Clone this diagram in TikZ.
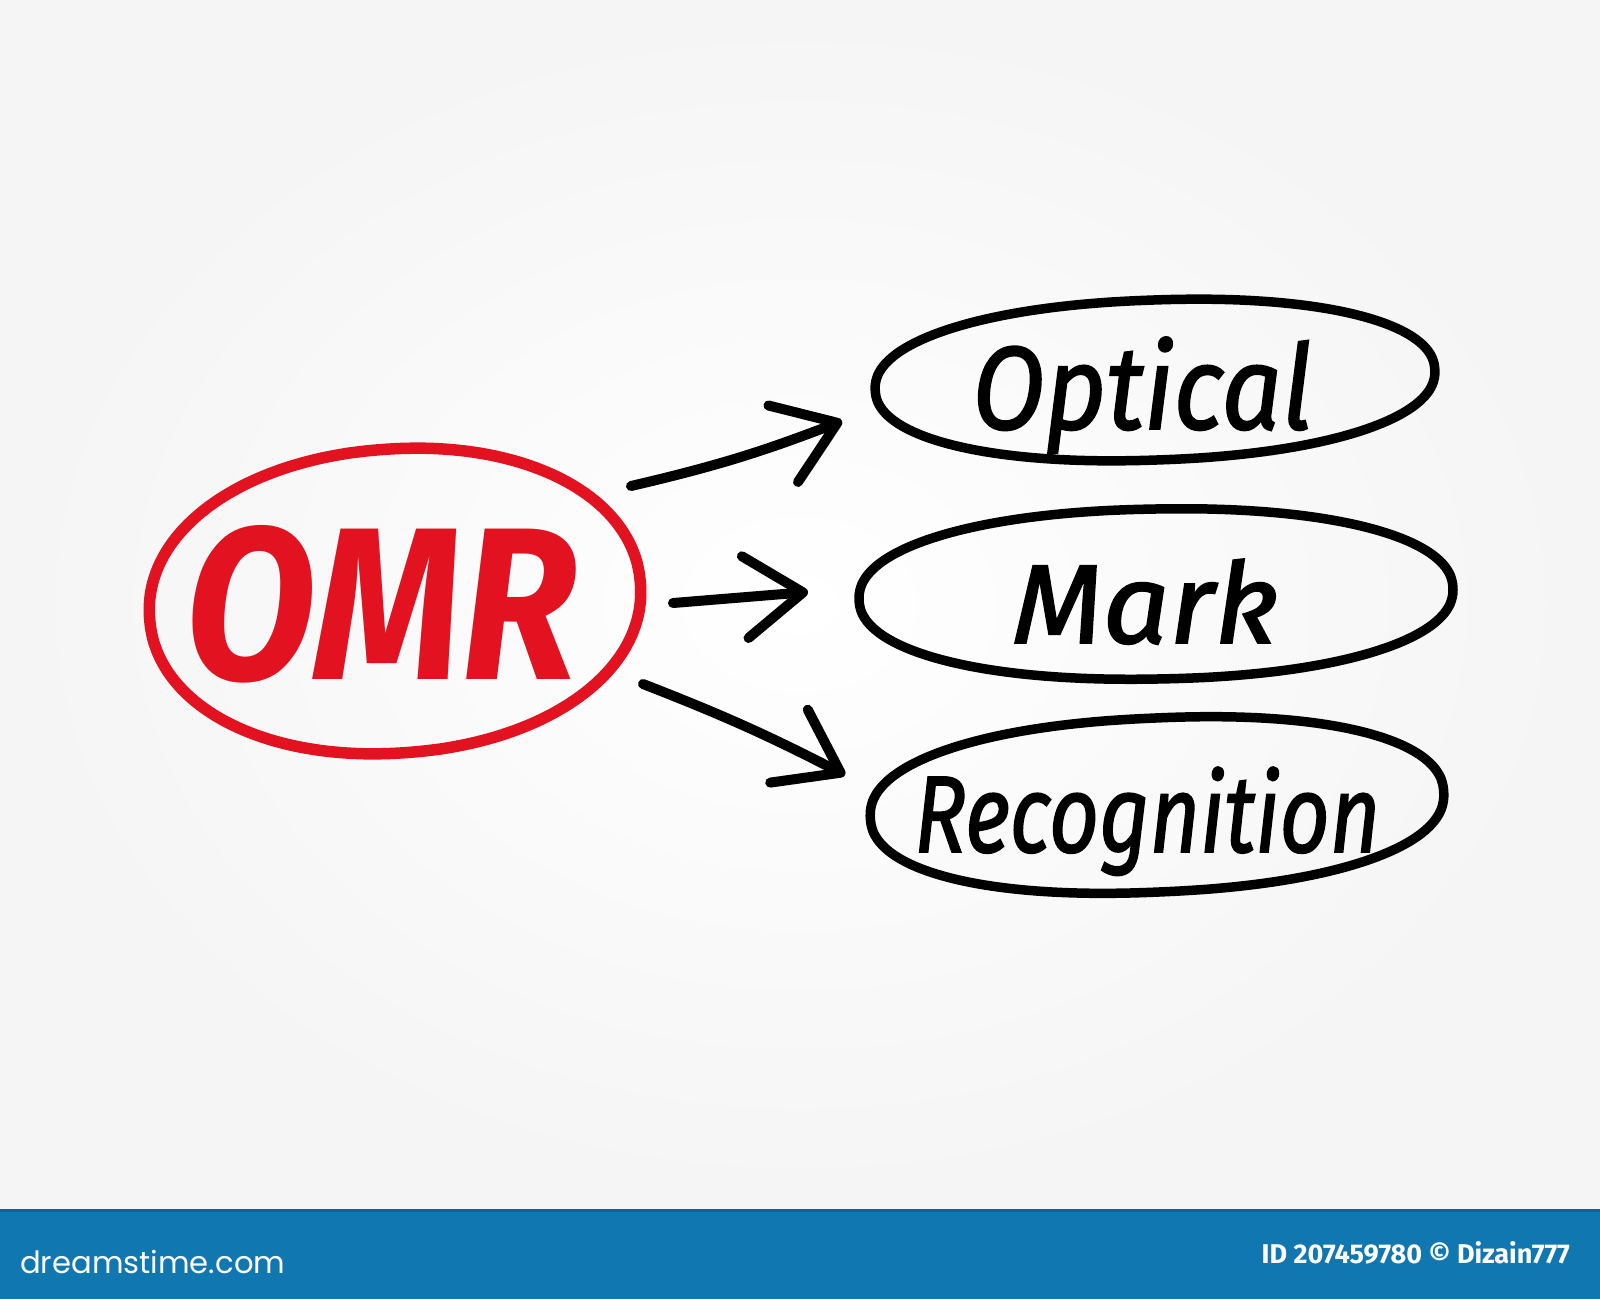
\documentclass[tikz,border=0pt]{standalone}
\usepackage{fontspec}
\usepackage{graphicx}
\usetikzlibrary{arrows.meta,shapes.geometric}
\newfontfamily\hand{Fira Sans}
\newfontfamily\handm{Fira Sans}[FakeBold=1.6]
\newfontfamily\foot{Poppins}
\definecolor{omrred}{RGB}{226,18,32}
\definecolor{footblue}{RGB}{17,119,176}
\definecolor{footline}{RGB}{14,100,150}
% superellipse outline: centre x, centre y, half width, half height, rotation, exponent, style
\newcommand\myoval[7]{%
  \draw[#7, shift={(#1,#2)}, rotate=#5]
    plot[domain=0.5:360.5, samples=181, smooth]
      ({#3*sign(cos(\x))*abs(cos(\x))^(#6)}, {#4*sign(sin(\x))*abs(sin(\x))^(#6)}) -- cycle;}
\tikzset{
  oval/.style={draw=black, line width=9.5pt, line join=round},
  redoval/.style={draw=omrred, line width=11.5pt, line join=round},
  hold/.style={ellipse, inner sep=0pt, draw=none},
  word/.style={inner sep=0pt, anchor=base west},
  arr/.style={draw=black, line width=10pt, line cap=round,
    -{Straight Barb[length=58pt,width=82pt,line width=0pt 1,round]}},
  foottext/.style={inner sep=0pt, text=white}
}
\begin{document}
\begin{tikzpicture}[x=1pt,y=-1pt]
\useasboundingbox (0,0) rectangle (1600,1299);
% background
\shade[inner color=white, outer color=black!4] (0,0) rectangle (1600,1209);
% footer
\fill[footblue] (0,1209) rectangle (1600,1299);
\fill[footline] (0,1209) rectangle (1600,1212);
\node[foottext, anchor=base west] (brand) at (20,1273)
  {\resizebox{265pt}{!}{\foot dreamstime.com}};
\node[foottext, anchor=base east] (imgid) at (1570,1263)
  {\resizebox{308pt}{22pt}{\hand\bfseries ID 207459780 © Dizain777}};
% red OMR
\node[hold, minimum width=495pt, minimum height=306pt, rotate=4] (omr) at (395,601) {};
\myoval{395}{601}{246}{152}{4}{0.96}{redoval}
\node[word, text=omrred] (omrT) at (185,679)
  {\resizebox{392pt}{154pt}{\hand\bfseries\itshape OMR}};
% black ovals
\node[hold, minimum width=558pt, minimum height=160pt, rotate=2] (opt) at (1155,380) {};
\myoval{1155}{380}{280}{80}{2}{0.92}{oval}
\node[word] (optT) at (972,429)
  {\resizebox{340pt}{92pt}{\handm\itshape Optical}};
\node[hold, minimum width=592pt, minimum height=170pt, rotate=1] (mark) at (1156,594) {};
\myoval{1156}{594}{297}{85}{1}{0.92}{oval}
\node[word] (markT) at (1012,643)
  {\resizebox{266pt}{84pt}{\handm\itshape Mark}};
\node[hold, minimum width=572pt, minimum height=172pt, rotate=2.5] (rec) at (1157,805) {};
\myoval{1157}{805}{287}{87}{2.5}{0.9}{oval}
\node[word] (recT) at (914,852)
  {\resizebox{466pt}{85pt}{\handm\itshape Recognition}};
% arrows
\coordinate (t1) at (631,486);
\coordinate (h1) at (842,421);
\coordinate (t2) at (673,603);
\coordinate (h2) at (808,592);
\coordinate (t3) at (643,684);
\coordinate (h3) at (845,775);
\draw[arr] (t1) to[bend right=4] (h1);
\draw[arr] (t2) -- (h2);
\draw[arr] (t3) to[bend left=3] (h3);
\end{tikzpicture}
\end{document}
